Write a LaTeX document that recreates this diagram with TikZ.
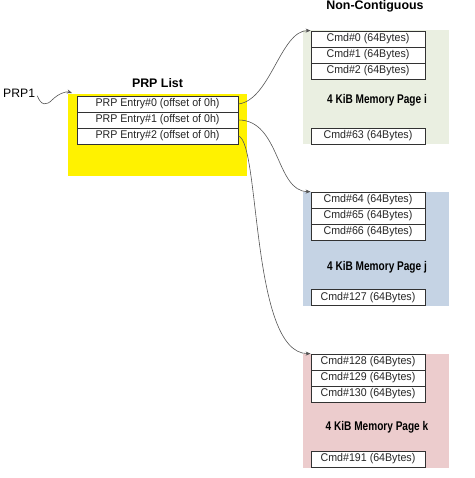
\documentclass[tikz,border=0pt]{standalone}
\usepackage{fontspec}
\setmainfont{Liberation Sans}
\newfontfamily\cellfont[FakeStretch=0.95]{Liberation Sans}
\newfontfamily\labelfont[FakeStretch=0.8]{Liberation Sans}
\usetikzlibrary{arrows.meta}
\definecolor{pagei}{RGB}{234,239,225}
\definecolor{pagej}{RGB}{197,211,228}
\definecolor{pagek}{RGB}{236,204,205}
\definecolor{boxline}{RGB}{50,50,50}
\definecolor{conn}{RGB}{85,85,85}
\tikzset{
  cell/.style={draw=boxline, line width=0.8pt, fill=white, inner sep=0pt,
    minimum height=16pt, text=black!85, font=\cellfont\fontsize{11.2}{12}\selectfont},
  entrybox/.style={cell, minimum width=161pt},
  cmdbox/.style={cell, minimum width=114pt},
  pagebox/.style={draw=none, inner sep=0pt, minimum width=146pt, minimum height=114pt},
  pagelabel/.style={font=\labelfont\bfseries\fontsize{12.6}{14}\selectfont, text=black},
  title/.style={font=\bfseries\fontsize{12.4}{14}\selectfont, text=black},
  link/.style={draw=conn, line width=0.6pt, -{Stealth[length=5pt,width=4pt]}}
}
\begin{document}
\begin{tikzpicture}[x=1pt,y=-1pt]
\useasboundingbox (0,0) rectangle (474,478);
% PRP list
\node[fill=yellow, inner sep=0pt, minimum width=179pt, minimum height=82pt] (list) at (157.5,135) {};
\node[title, anchor=base] (listtitle) at (157.5,88) {PRP List};
\node[entrybox] (e0) at (157.5,104) {PRP Entry\#0 (offset of 0h)};
\node[entrybox] (e1) at (157.5,120) {PRP Entry\#1 (offset of 0h)};
\node[entrybox] (e2) at (157.5,136) {PRP Entry\#2 (offset of 0h)};
% PRP1
\node[font=\fontsize{12.2}{14}\selectfont, anchor=base west, inner sep=0pt] (prp1) at (3,98) {PRP1};
\coordinate (listin) at (72,93);
% title
\node[title, anchor=base] (nctitle) at (375,9.5) {Non-Contiguous};
% page i
\node[pagebox, fill=pagei] (pi) at (376,87) {};
\node[cmdbox] (c0) at (368,39) {Cmd\#0 (64Bytes)};
\node[cmdbox] (c1) at (368,55) {Cmd\#1 (64Bytes)};
\node[cmdbox] (c2) at (368,71) {Cmd\#2 (64Bytes)};
\node[pagelabel] (li) at (377,100) {4 KiB Memory Page i};
\node[cmdbox] (c63) at (368,136) {Cmd\#63 (64Bytes)};
% page j
\node[pagebox, fill=pagej] (pj) at (376,249) {};
\node[cmdbox] (c64) at (368,200) {Cmd\#64 (64Bytes)};
\node[cmdbox] (c65) at (368,216) {Cmd\#65 (64Bytes)};
\node[cmdbox] (c66) at (368,232) {Cmd\#66 (64Bytes)};
\node[pagelabel] (lj) at (377,267) {4 KiB Memory Page j};
\node[cmdbox] (c127) at (368,297.5) {Cmd\#127 (64Bytes)};
% page k
\node[pagebox, fill=pagek] (pk) at (376,410.5) {};
\node[cmdbox] (c128) at (368,362) {Cmd\#128 (64Bytes)};
\node[cmdbox] (c129) at (368,378) {Cmd\#129 (64Bytes)};
\node[cmdbox] (c130) at (368,394) {Cmd\#130 (64Bytes)};
\node[pagelabel] (lk) at (377,427) {4 KiB Memory Page k};
\node[cmdbox] (c191) at (368,459) {Cmd\#191 (64Bytes)};
% connectors
\draw[link] ([xshift=2pt,yshift=-2pt]prp1.east) .. controls +(4,10) and +(-6,6) .. ++(15,4)
   .. controls +(6,-6) and +(-6,-2) .. (listin);
\draw[link] (e0.east) .. controls +(32,-4) and +(-30,0) .. (c0.north west);
\draw[link] (e1.east) .. controls +(42,0) and +(-35,0) .. (c64.north west);
\draw[link] (e2.east) .. controls +(22,6) and +(-60,0) .. (c128.north west);
\end{tikzpicture}
\end{document}
